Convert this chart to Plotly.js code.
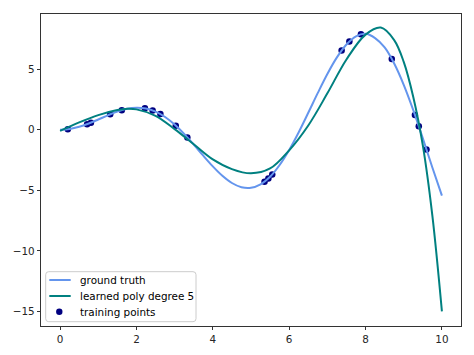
<!DOCTYPE html>
<html>
<head>
<meta charset="utf-8">
<script src="https://cdn.plot.ly/plotly-3.0.1.min.js"></script>
<style>html,body{margin:0;padding:0;background:#fff;}#chart{width:474px;height:355px;}</style>
</head>
<body>
<div id="chart"></div>
<script>
// ground truth curve
const truthX = [0,0.25,0.5,0.75,1,1.25,1.5,1.75,2,2.25,2.5,2.75,3,3.25,3.5,3.75,4,4.25,4.5,4.75,5,5.25,5.5,5.75,6,6.25,6.5,6.75,7,7.25,7.5,7.75,8,8.25,8.5,8.75,9,9.25,9.5,9.75,10];
const truthY = [0,0.062,0.240,0.511,0.841,1.186,1.496,1.722,1.819,1.751,1.496,1.050,0.423,-0.352,-1.228,-2.143,-3.027,-3.804,-4.399,-4.747,-4.795,-4.509,-3.880,-2.912,-1.676,-0.207,1.398,3.037,4.599,5.967,7.035,7.708,7.915,7.563,6.787,5.465,3.709,1.612,-0.714,-3.115,-5.440];
// learned polynomial (degree 5) curve
const polyX = [0,0.5,1,1.5,1.77,2,2.5,3,3.5,4,4.5,5,5.5,6,6.5,7,7.5,8,8.4,8.75,9,9.25,9.5,9.75,10];
const polyY = [-0.1,0.6,1.2,1.62,1.73,1.68,1.15,0.05,-1.2,-2.45,-3.25,-3.6,-3.2,-1.7,0.35,3.0,5.8,7.85,8.43,7.4,5.6,2.7,-1.3,-7.1,-15.0];
// training points
const trainX = [0.202,0.707,0.808,1.313,1.616,2.222,2.424,2.626,3.030,3.333,5.354,5.455,5.556,7.374,7.576,7.879,8.687,9.293,9.394,9.596];
const trainY = [0.040,0.459,0.584,1.270,1.615,1.767,1.594,1.294,0.337,-0.635,-4.29,-4.02,-3.69,6.54,7.28,7.876,5.844,1.222,0.290,-1.635];
const xTicks = [0,2,4,6,8,10];
const yTicks = [-15,-10,-5,0,5];
const legendLabels = ['ground truth', 'learned poly degree 5', 'training points'];

const C_TRUTH = '#6495ED', C_POLY = '#008080', C_PTS = '#000080';
const FONTFAM = 'DejaVu Sans, sans-serif';
const font = {family: FONTFAM, size: 10.4, color: '#262626'};
const traces = [
  {x: trainX, y: trainY, type: 'scatter', mode: 'markers', name: legendLabels[2], showlegend: false,
   marker: {color: C_PTS, size: 6.5}},
  {x: truthX, y: truthY, type: 'scatter', mode: 'lines', name: legendLabels[0], showlegend: false,
   line: {color: C_TRUTH, width: 2, shape: 'spline'}},
  {x: polyX, y: polyY, type: 'scatter', mode: 'lines', name: legendLabels[1], showlegend: false,
   line: {color: C_POLY, width: 2, shape: 'spline'}}
];
const axisCommon = {showgrid: false, zeroline: false, showline: true, mirror: true, linecolor: '#000', linewidth: 0.8,
  ticks: 'outside', ticklen: 3.5, tickwidth: 0.8, tickcolor: '#000', tickfont: font};

// legend drawn in paper coordinates (plot area: 420 x 312 px)
const W = 420, H = 312;
const px = v => (v - 41) / W;          // page pixel x -> paper
const py = v => (326 - v) / H;         // page pixel y -> paper
const bx0 = px(45.7), bx1 = px(196), by0 = py(321.7), by1 = py(271.7);
const rx = 3 / W, ry = 3 / H;
const boxPath = `M ${bx0+rx},${by0} L ${bx1-rx},${by0} Q ${bx1},${by0} ${bx1},${by0+ry} L ${bx1},${by1-ry} Q ${bx1},${by1} ${bx1-rx},${by1} L ${bx0+rx},${by1} Q ${bx0},${by1} ${bx0},${by1-ry} L ${bx0},${by0+ry} Q ${bx0},${by0} ${bx0+rx},${by0} Z`;
const rowsY = [py(280), py(296), py(311.7)];
const shapes = [
  {type: 'path', xref: 'paper', yref: 'paper', path: boxPath, fillcolor: 'rgba(255,255,255,0.8)', line: {color: '#cccccc', width: 1}},
  {type: 'line', xref: 'paper', yref: 'paper', x0: px(49.3), x1: px(70.7), y0: rowsY[0], y1: rowsY[0], line: {color: C_TRUTH, width: 2}},
  {type: 'line', xref: 'paper', yref: 'paper', x0: px(49.3), x1: px(70.7), y0: rowsY[1], y1: rowsY[1], line: {color: C_POLY, width: 2}},
  {type: 'circle', xref: 'paper', yref: 'paper', x0: px(59.3) - 3.2 / W, x1: px(59.3) + 3.2 / W, y0: rowsY[2] - 3.2 / H, y1: rowsY[2] + 3.2 / H,
   fillcolor: C_PTS, line: {width: 0}}
];
const annotations = legendLabels.map((t, i) => ({
  text: t, xref: 'paper', yref: 'paper', x: px(77.7), y: rowsY[i], xanchor: 'left', yanchor: 'middle',
  showarrow: false, font: {family: FONTFAM, size: 10.4, color: '#000'}
}));

const layout = {
  width: 474, height: 355,
  margin: {l: 41, r: 13, t: 14, b: 29},
  paper_bgcolor: '#fff', plot_bgcolor: '#fff',
  font: font,
  xaxis: Object.assign({range: [-0.5, 10.5], tickvals: xTicks, ticktext: xTicks.map(String)}, axisCommon),
  yaxis: Object.assign({range: [-16.2, 9.55], tickvals: yTicks}, axisCommon),
  showlegend: false,
  shapes: shapes,
  annotations: annotations
};
Plotly.newPlot('chart', traces, layout, {staticPlot: true, displayModeBar: false});
</script>
</body>
</html>
